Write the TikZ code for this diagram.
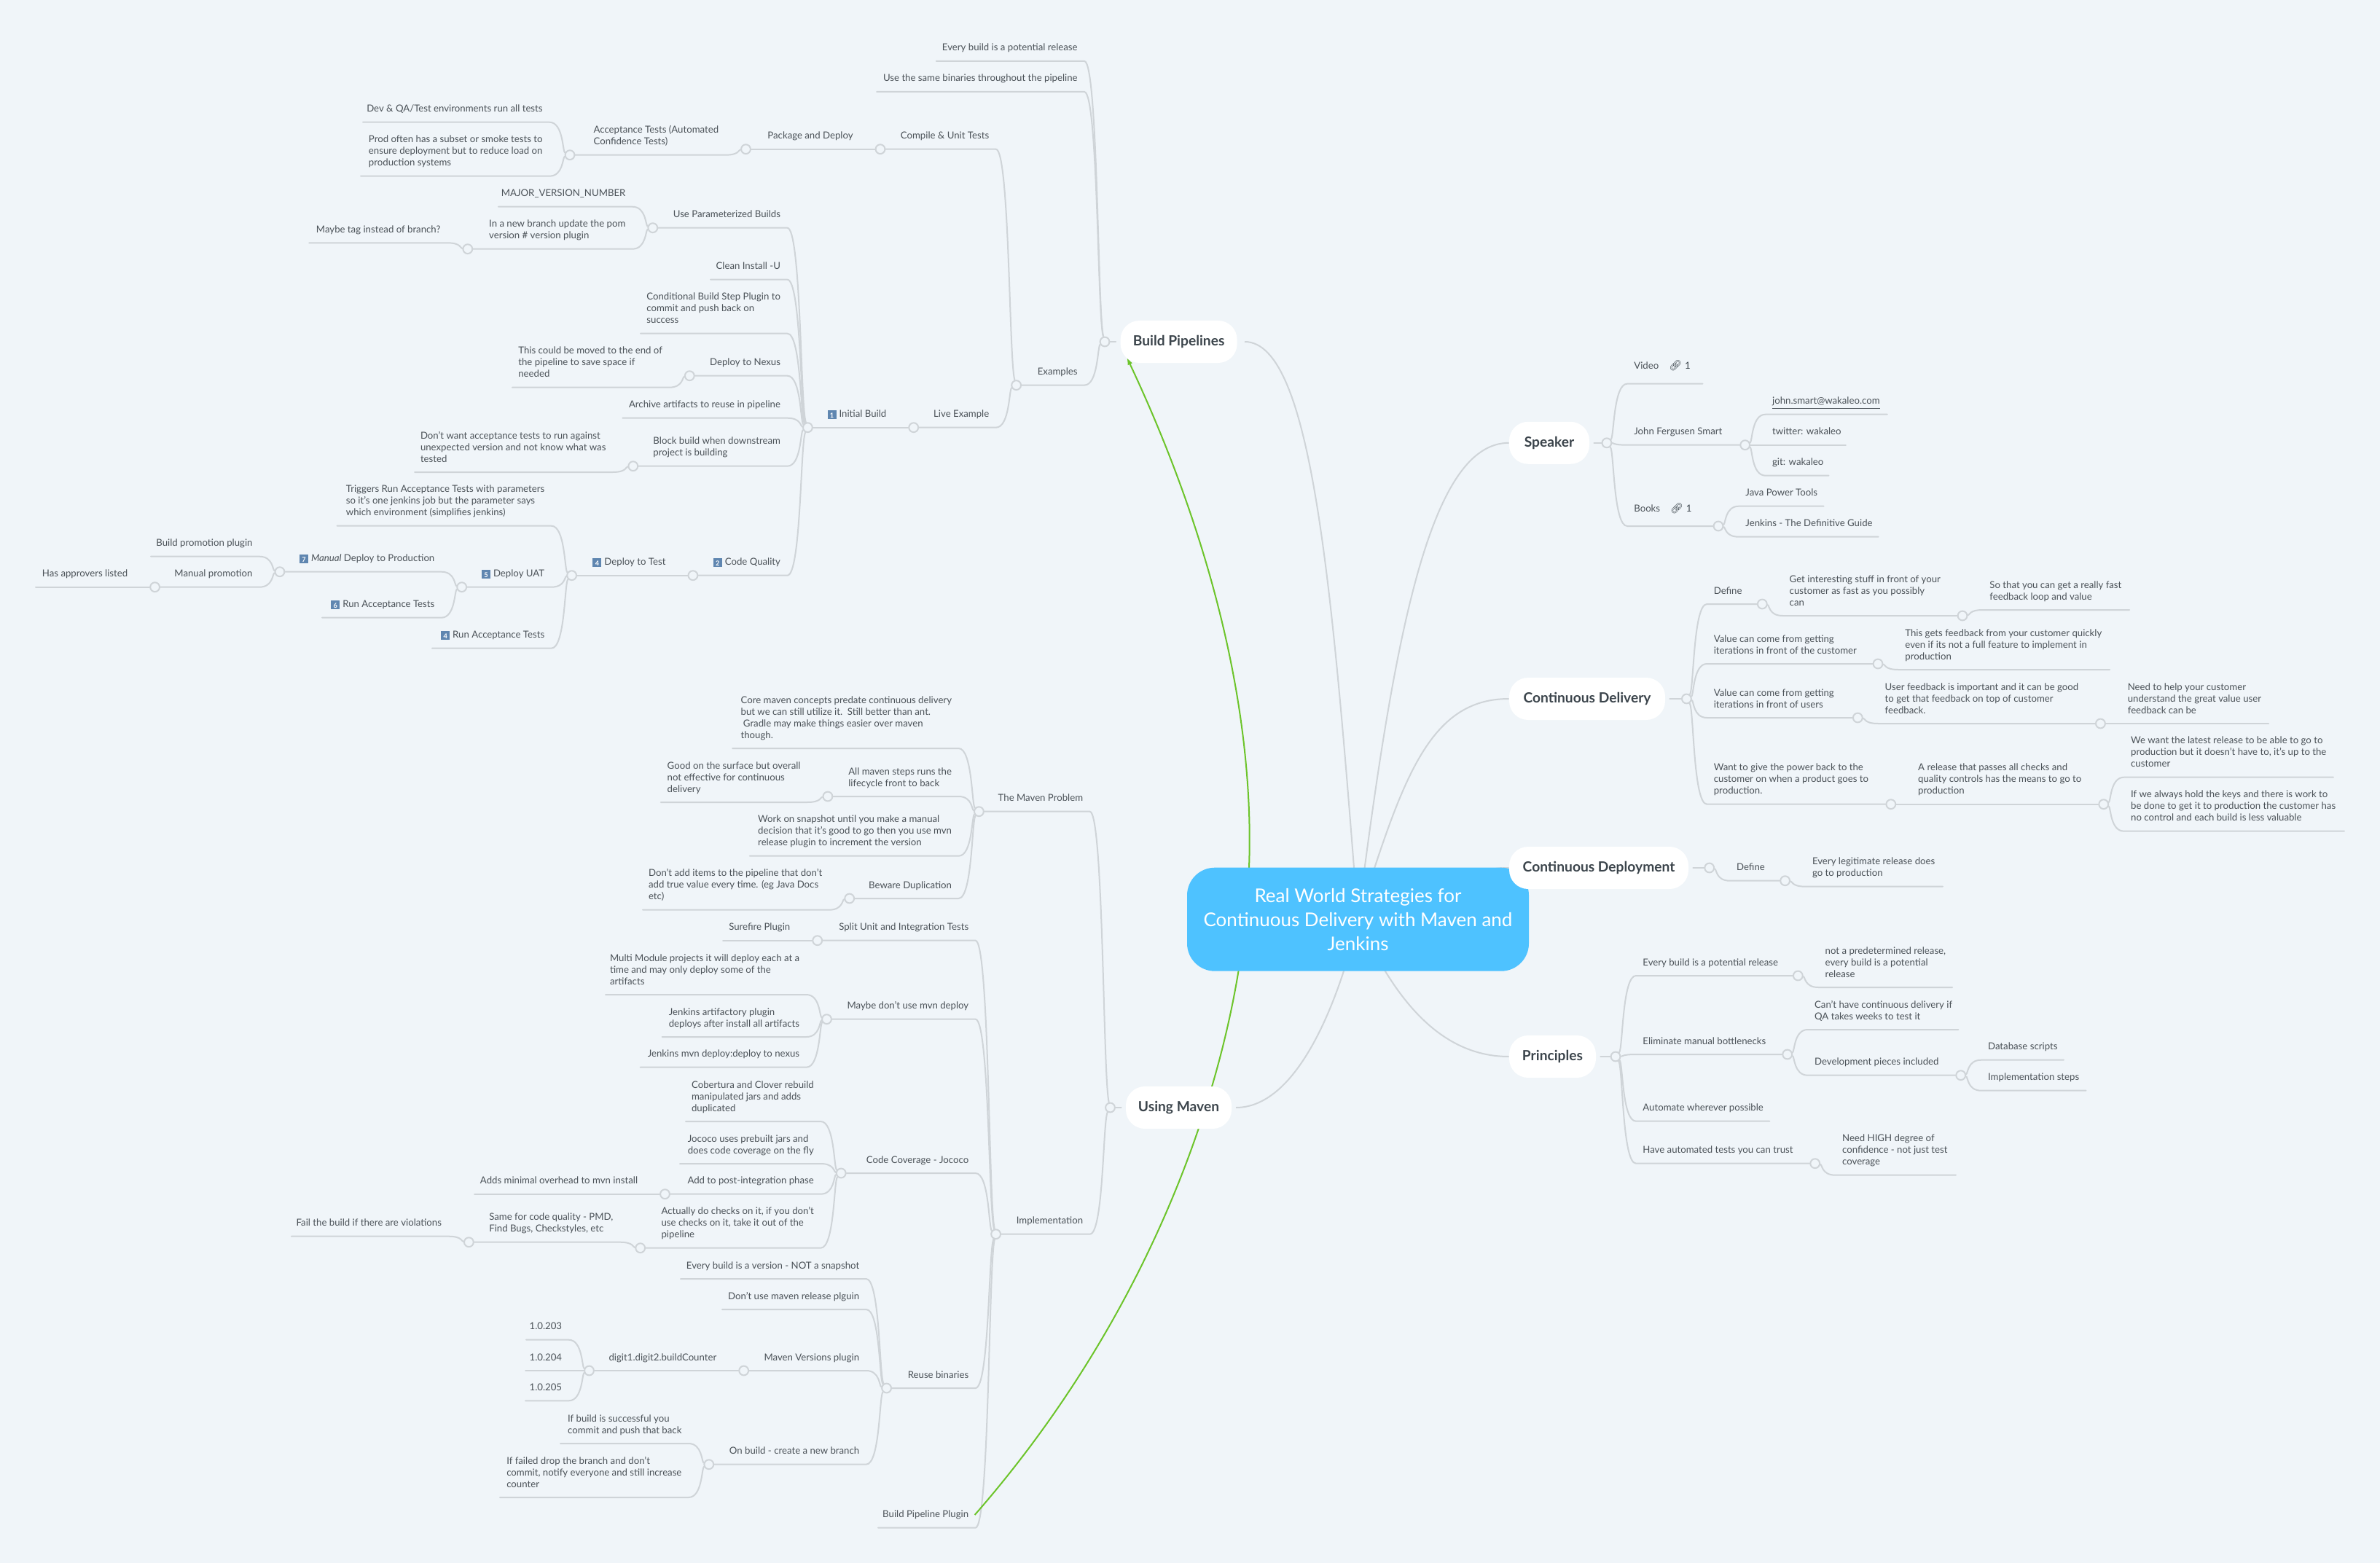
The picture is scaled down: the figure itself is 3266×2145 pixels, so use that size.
\documentclass[tikz,border=0pt]{standalone}
\usepackage{fontspec}
\setmainfont{Lato}
\newfontfamily\emojifont{Noto Emoji}
\usetikzlibrary{backgrounds,arrows.meta,calc}
\definecolor{bgc}{HTML}{F0F5F9}
\definecolor{linec}{HTML}{CFD4D8}
\definecolor{txtc}{HTML}{4B5258}
\definecolor{headc}{HTML}{3B444B}
\definecolor{rootc}{HTML}{4EC2FF}
\definecolor{greenc}{HTML}{6CC42A}
\definecolor{badgec}{HTML}{5F86B0}
\newcommand\badge[1]{{\setlength\fboxsep{0.9pt}\raisebox{-0.3pt}{\colorbox{badgec}{\makebox[4.2pt]{\rule{0pt}{4.2pt}\textcolor{white}{\fontsize{4.6}{4.6}\bfseries\selectfont #1}}}}\hspace{2pt}}}
\newcommand\linkn{\hspace{7pt}{\textcolor{headc}{\emojifont\fontsize{7}{7}\selectfont\symbol{"1F517}}}\hspace{2pt}\textcolor{headc}{1}}
\tikzset{
  txt/.style={inner sep=0pt,align=left,text=txtc,font=\fontsize{6.6}{8}\selectfont},
  conn/.style={draw=linec,line width=1pt,line cap=round},
  hubc/.style={circle,draw=linec,fill=bgc,line width=1pt,minimum size=6.4pt,inner sep=0pt},
  head/.style={rectangle,rounded corners=13pt,fill=white,inner sep=0pt,minimum height=29pt,text=headc,font=\fontsize{9.6}{12}\bfseries\selectfont},
  rootn/.style={rectangle,rounded corners=19pt,fill=rootc,text=white,inner sep=0pt,align=center,font=\fontsize{13}{16.5}\selectfont},
  maincurve/.style={draw=linec,line width=1pt},
  greenarrow/.style={draw=greenc,line width=1pt,-{Latex[length=5pt,width=3.6pt]}}
}
\newcommand\hubdef[3]{\node[hubc] (h#1) at (#2,#3) {};\expandafter\gdef\csname hx#1\endcsname{#2}\expandafter\gdef\csname hy#1\endcsname{#3}}
\newcommand\getp[1]{\edef\hxx{\csname hx#1\endcsname}\edef\hyy{\csname hy#1\endcsname}}
\newcommand\LL[5]{\getp{#2}\begin{scope}[on background layer]\draw[conn] (h#2) .. controls (\hxx-10,\hyy+0.1*#3-0.1*\hyy) and (\hxx-9,#3) .. (\hxx-28,#3) -- (#4);\end{scope}}
\newcommand\RL[5]{\getp{#2}\begin{scope}[on background layer]\draw[conn] (h#2) .. controls (\hxx+10,\hyy+0.1*#3-0.1*\hyy) and (\hxx+9,#3) .. (\hxx+28,#3) -- (#4);\end{scope}}
% left leaf / left with hub / right leaf / right with hub : [baseline offset]{id}{parent}{y}{x outer}{text}
\newcommand\LT[6][14]{\getp{#3}\node[txt,anchor=base east] (#2) at (\hxx-37,#4-#1) {#6};\coordinate (#2e) at (#5,#4);\LL{#2}{#3}{#4}{#2e}{}}
\newcommand\RT[6][14]{\getp{#3}\node[txt,anchor=base west] (#2) at (\hxx+37,#4-#1) {#6};\coordinate (#2e) at (#5,#4);\RL{#2}{#3}{#4}{#2e}{}}
\newcommand\LH[6][14]{\getp{#3}\node[txt,anchor=base east] (#2) at (\hxx-37,#4-#1) {#6};\hubdef{#2}{#5}{#4}\LL{#2}{#3}{#4}{h#2}{}}
\newcommand\RH[6][14]{\getp{#3}\node[txt,anchor=base west] (#2) at (\hxx+37,#4-#1) {#6};\hubdef{#2}{#5}{#4}\RL{#2}{#3}{#4}{h#2}{}}
\begin{document}
\begin{tikzpicture}[x=0.5pt,y=-0.5pt]
\useasboundingbox (0,0) rectangle (3266,2145);
\begin{scope}[on background layer]
\fill[bgc] (0,0) rectangle (3266,2145);
\end{scope}
% root and main topics
\node[rootn,minimum width=234.5pt,minimum height=71pt] (root) at (1863.5,1261.7) {Real World Strategies for\\Continuous Delivery with Maven and\\Jenkins};
\node[head,minimum width=80pt] (bp) at (1617.6,469) {Build Pipelines};
\node[head,minimum width=72.5pt] (um) at (1617.5,1520) {Using Maven};
\node[head,minimum width=55pt] (sp) at (2126,607.8) {Speaker};
\node[head,minimum width=107pt] (cd) at (2178,959) {Continuous Delivery};
\node[head,minimum width=123pt] (dp) at (2194,1191) {Continuous Deployment};
\node[head,minimum width=59.5pt] (pr) at (2130.5,1450) {Principles};
\hubdef{bp}{1516}{469}\hubdef{um}{1523.5}{1520}\hubdef{sp}{2204.9}{607.8}\hubdef{cd}{2314.4}{959}\hubdef{dp}{2345.7}{1191}\hubdef{pr}{2217}{1450}
\coordinate (bpa) at (1708,469);
\coordinate (uma) at (1696,1520);
\begin{scope}[on background layer]
\draw[conn] (bp.west) ++(-6,0) -- (hbp);
\draw[conn] (um.west) ++(-6,0) -- (hum);
\draw[conn] (sp.east) ++(6,0) -- (hsp);
\draw[conn] (cd.east) ++(6,0) -- (hcd);
\draw[conn] (dp.east) ++(6,0) -- (hdp);
\draw[conn] (pr.east) ++(6,0) -- (hpr);
\draw[maincurve] (root.center) .. controls (1828,800) and (1800,469) .. (bpa);
\draw[maincurve] (root.center) .. controls (1914,861) and (1964,607.8) .. (sp.west);
\draw[maincurve] (root.center) .. controls (1924,1071) and (1960,959) .. (cd.west);
\draw[maincurve] (root.center) .. controls (1950,1250) and (1990,1191) .. (dp.west);
\draw[maincurve] (root.center) .. controls (1900,1340) and (1960,1450) .. (pr.west);
\draw[maincurve] (root.center) .. controls (1846,1340) and (1790,1520) .. (uma);
\end{scope}
% Speaker
\RT[20]{video}{sp}{526.7}{2336.5}{Video\linkn}
\RH{john}{sp}{610.7}{2394.7}{John Fergusen Smart}
\RT{mail}{john}{568.7}{2589.9}{\underline{john.smart@wakaleo.com}}
\RT{tw}{john}{610.7}{2532.8}{twitter: wakaleo}
\RT{git}{john}{652.7}{2509.5}{git: wakaleo}
\RH[20]{books}{sp}{722}{2358}{Books\linkn}
\RT{jpt}{books}{694.7}{2502.6}{Java Power Tools}
\RT{jdg}{books}{736.7}{2577.6}{Jenkins - The Definitive Guide}
% Continuous Delivery
\RH{def}{cd}{829}{2418.3}{Define}
\RH{gis}{def}{845}{2693}{Get interesting stuff in front of your\\customer as fast as you possibly\\can}
\RT{sot}{gis}{837}{2922}{So that you can get a really fast\\feedback loop and value}
\RH{vcc}{cd}{911}{2577}{Value can come from getting\\iterations in front of the customer}
\RT{tgf}{vcc}{919}{2895}{This gets feedback from your customer quickly\\even if its not a full feature to implement in\\production}
\RH{vcu}{cd}{985}{2549.3}{Value can come from getting\\iterations in front of users}
\RH{ufb}{vcu}{993}{2882.4}{User feedback is important and it can be good\\to get that feedback on top of customer\\feedback.}
\RT{nth}{ufb}{993}{3113}{Need to help your customer\\understand the great value user\\feedback can be}
\RH{wtg}{cd}{1103.7}{2594.8}{Want to give the power back to the\\customer on when a product goes to\\production.}
\RH{arp}{wtg}{1103.7}{2886.7}{A release that passes all checks and\\quality controls has the means to go to\\production}
\RT{wwl}{arp}{1066.7}{3202}{We want the latest release to be able to go to\\production but it doesn't have to, it's up to the\\customer}
\RT{iwa}{arp}{1140.7}{3217}{If we always hold the keys and there is work to\\be done to get it to production the customer has\\no control and each build is less valuable}
% Continuous Deployment
\RH{ddef}{dp}{1208.7}{2449.6}{Define}
\RT{elr}{ddef}{1216.7}{2666}{Every legitimate release does\\go to production}
% Principles
\RH{ebp}{pr}{1339}{2467.3}{Every build is a potential release}
\RT{nap}{ebp}{1355}{2679}{not a predetermined release,\\every build is a potential\\release}
\RH{emb}{pr}{1447}{2452.7}{Eliminate manual bottlenecks}
\RT{chc}{emb}{1413}{2687.4}{Can't have continuous delivery if\\QA takes weeks to test it}
\RH{dpi}{emb}{1475.7}{2690.7}{Development pieces included}
\RT{dbs}{dpi}{1454.7}{2832}{Database scripts}
\RT{ims}{dpi}{1496.7}{2862.5}{Implementation steps}
\RT{awp}{pr}{1538.7}{2428.3}{Automate wherever possible}
\RH{hat}{pr}{1596.7}{2490.7}{Have automated tests you can trust}
\RT{nhd}{hat}{1612.7}{2684}{Need HIGH degree of\\confidence - not just test\\coverage}
% Build Pipelines
\LT{ebr}{bp}{83.9}{1284.8}{Every build is a potential release}
\LT{usb}{bp}{126}{1203}{Use the same binaries throughout the pipeline}
\LH{ex}{bp}{528.6}{1394.6}{Examples}
\LH{cut}{ex}{204.7}{1208}{Compile \& Unit Tests}
\LH{pad}{cut}{204.7}{1023.5}{Package and Deploy}
\LH{act}{pad}{212.7}{782}{Acceptance Tests (Automated\\Confidence Tests)}
\LT{dqa}{act}{167.7}{498}{Dev \& QA/Test environments run all tests}
\LT{pro}{act}{241.7}{495}{Prod often has a subset or smoke tests to\\ensure deployment but to reduce load on\\production systems}
\LH{lex}{ex}{586.7}{1253.7}{Live Example}
\LH{ib}{lex}{586.7}{1108.4}{\badge{1}Initial Build}
\LH{upb}{ib}{312.7}{895.8}{Use Parameterized Builds}
\LT{mvn}{upb}{283.7}{683.9}{MAJOR\_VERSION\_NUMBER}
\LH{inb}{upb}{341.7}{641.8}{In a new branch update the pom\\version \# version plugin}
\LT{mtg}{inb}{333.3}{424.2}{Maybe tag instead of branch?}
\LT{cli}{ib}{383.7}{975}{Clean Install -U}
\LT{cbs}{ib}{457.7}{879}{Conditional Build Step Plugin to\\commit and push back on\\success}
\LH{dtn}{ib}{515.7}{946.3}{Deploy to Nexus}
\LT{tcb}{dtn}{531.7}{702.8}{This could be moved to the end of\\the pipeline to save space if\\needed}
\LT{aar}{ib}{573.7}{854.4}{Archive artifacts to reuse in pipeline}
\LH{bbw}{ib}{639.7}{868.8}{Block build when downstream\\project is building}
\LT{dwa}{bbw}{648}{569}{Don't want acceptance tests to run against\\unexpected version and not know what was\\tested}
\LH{cq}{ib}{789.7}{950.9}{\badge{2}Code Quality}
\LH{dtt}{cq}{789.7}{784.6}{\badge{4}Deploy to Test}
\LT{trg}{dtt}{721.7}{462.5}{Triggers Run Acceptance Tests with parameters\\so it's one jenkins job but the parameter says\\which environment (simplifies jenkins)}
\LH{uat}{dtt}{805.7}{633.7}{\badge{5}Deploy UAT}
\LH{mdp}{uat}{784.7}{383.9}{\badge{7}\emph{Manual} Deploy to Production}
\LT{bpp}{mdp}{763.7}{207}{Build promotion plugin}
\LH{mpr}{mdp}{805.7}{212.6}{Manual promotion}
\LT{hal}{mpr}{805.7}{49}{Has approvers listed}
\LT{rat}{uat}{847.7}{442}{\badge{6}Run Acceptance Tests}
\LT{rats}{dtt}{889.7}{593}{\badge{4}Run Acceptance Tests}
% Using Maven
\LH{tmp}{um}{1113.7}{1343.4}{The Maven Problem}
\LT{cor}{tmp}{1027}{1005}{Core maven concepts predate continuous delivery\\but we can still utilize it.\ \ Still better than ant.\\\ Gradle may make things easier over maven\\though.}
\LH{ams}{tmp}{1093}{1135.9}{All maven steps runs the\\lifecycle front to back}
\LT{gos}{ams}{1101}{906.8}{Good on the surface but overall\\not effective for continuous\\delivery}
\LT{wos}{tmp}{1174.7}{1028.9}{Work on snapshot until you make a manual\\decision that it's good to go then you use mvn\\release plugin to increment the version}
\LH{bwd}{tmp}{1233}{1165.7}{Beware Duplication}
\LT{dai}{bwd}{1248.7}{882}{Don't add items to the pipeline that don't\\add true value every time. (eg Java Docs\\etc)}
\LH{imp}{um}{1693.7}{1366.6}{Implementation}
\LH{sui}{imp}{1290.7}{1121.7}{Split Unit and Integration Tests}
\LT{sfp}{sui}{1290.7}{992}{Surefire Plugin}
\LH{mdu}{imp}{1398.7}{1134.5}{Maybe don't use mvn deploy}
\LT{mmp}{mdu}{1365}{831}{Multi Module projects it will deploy each at a\\time and may only deploy some of the\\artifacts}
\LT{jap}{mdu}{1423}{908.7}{Jenkins artifactory plugin\\deploys after install all artifacts}
\LT{jmd}{mdu}{1464.7}{878.7}{Jenkins mvn deploy:deploy to nexus}
\LH{ccj}{imp}{1610}{1154.2}{Code Coverage - Jococo}
\LT{cob}{ccj}{1539}{941}{Cobertura and Clover rebuild\\manipulated jars and adds\\duplicated}
\LT{joc}{ccj}{1597}{933}{Jococo uses prebuilt jars and\\does code coverage on the fly}
\LH{apo}{ccj}{1638.7}{912.5}{Add to post-integration phase}
\LT{amo}{apo}{1638.7}{651}{Adds minimal overhead to mvn install}
\LH{adc}{ccj}{1712.7}{878.7}{Actually do checks on it, if you don't\\use checks on it, take it out of the\\pipeline}
\LH{sfc}{adc}{1704.7}{643.4}{Same for code quality - PMD,\\Find Bugs, Checkstyles, etc}
\LT{ftb}{sfc}{1696.7}{399.8}{Fail the build if there are violations}
\LH{rbi}{imp}{1905}{1216.6}{Reuse binaries}
\LT{ebv}{rbi}{1755}{934}{Every build is a version - NOT a snapshot}
\LT{dum}{rbi}{1797}{991}{Don't use maven release plguin}
\LH{mvp}{rbi}{1881}{1020.7}{Maven Versions plugin}
\LH{dig}{mvp}{1881}{808.5}{digit1.digit2.buildCounter}
\LT{vta}{dig}{1838.7}{722}{1.0.203}
\LT{vtb}{dig}{1881}{721}{1.0.204}
\LT{vtc}{dig}{1922.3}{721}{1.0.205}
\LH{obc}{rbi}{2009.7}{972.8}{On build - create a new branch}
\LT{ibs}{obc}{1981}{769}{If build is successful you\\commit and push that back}
\LT{ifd}{obc}{2055}{686}{If failed drop the branch and don't\\commit, notify everyone and still increase\\counter}
\LT{bpl}{imp}{2096.7}{1205}{Build Pipeline Plugin}
% relation arrow
\coordinate (gs) at (1337.6,2079);
\coordinate (gm) at (1714,1190.7);
\coordinate (ge) at (1546.4,490.7);
\begin{scope}[on background layer]
\draw[greenarrow] (gs) .. controls (1590,1790) and (1705,1450) .. (gm) .. controls (1723,950) and (1645,700) .. (ge);
\end{scope}
\end{tikzpicture}
\end{document}
